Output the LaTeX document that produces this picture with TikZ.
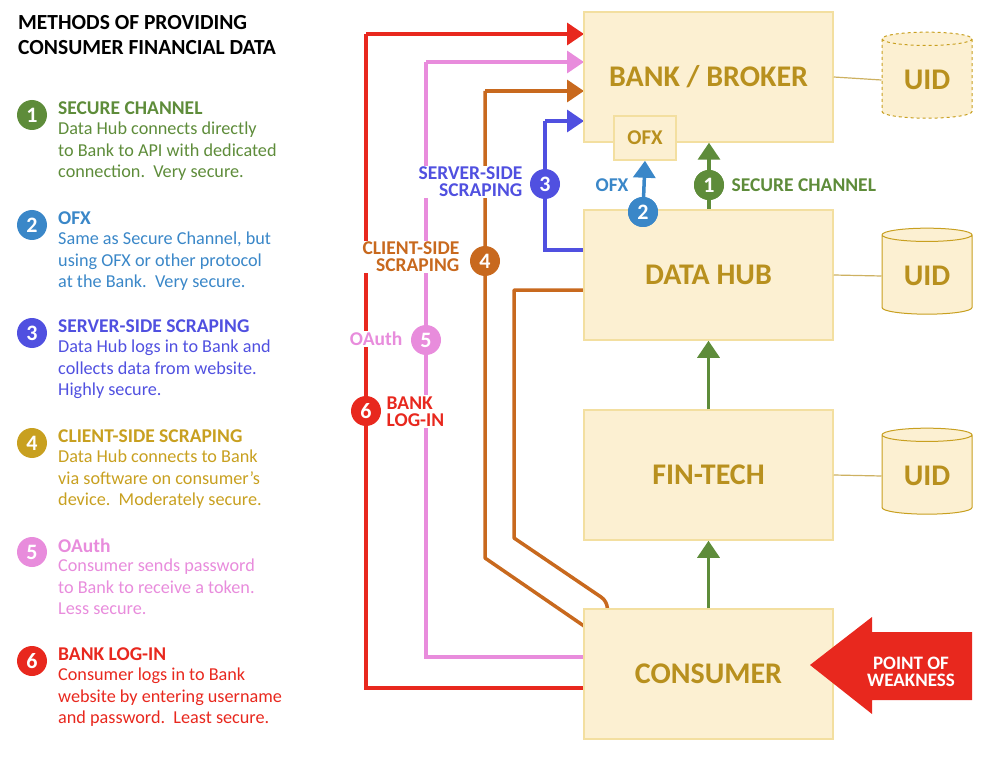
\documentclass[tikz,border=0pt]{standalone}
\usepackage{fontspec}
\setmainfont{Carlito}
\usetikzlibrary{shapes.geometric,arrows.meta}
\definecolor{cg}{HTML}{5E8C3A}\definecolor{cb}{HTML}{3A87C8}\definecolor{cp}{HTML}{5050E0}
\definecolor{cy}{HTML}{C8A020}\definecolor{ck}{HTML}{E88CDC}\definecolor{cr}{HTML}{E8281E}
\definecolor{co}{HTML}{C8691E}\definecolor{bf}{HTML}{FCF0D2}\definecolor{bd}{HTML}{F3DFA0}\definecolor{bt}{HTML}{B8901E}
\begin{document}
\begin{tikzpicture}[x=1pt,y=-1pt,
 box/.style={draw=bd,fill=bf,line width=1.5pt,minimum width=249pt,minimum height=130pt,font=\bfseries\fontsize{30}{32}\selectfont,text=bt},
 cyl/.style={cylinder,shape border rotate=90,aspect=0.25,draw=cy,fill=bf,line width=1pt,minimum width=90pt,minimum height=86pt,font=\bfseries\fontsize{30}{32}\selectfont,text=bt},
 num/.style={circle,fill=#1,text=white,inner sep=0pt,minimum size=30pt,font=\bfseries\fontsize{22}{22}\selectfont},
 ln/.style={line width=3.5pt,draw=#1},
 ar/.style={line width=3.5pt,draw=#1,-{Triangle[length=17pt,width=22pt]}},
 lbl/.style={font=\bfseries\fontsize{19.5}{20}\selectfont,text=#1,align=left,fill=white,inner sep=1.5pt},
 lt/.style={font=\bfseries\fontsize{19.5}{20}\selectfont,text=#1,anchor=north west},
 lb/.style={font=\fontsize{18.2}{21.5}\selectfont,text=#1,anchor=north west,align=left}]
\useasboundingbox (0,0) rectangle (997,757);
% connectors behind boxes
\coordinate (r1) at (366,688);\coordinate (r2) at (366,34);
\draw[ln=cr] (584,688) -- (r1) -- (r2);
\draw[ar=cr] (r2) -- (584,34);
\draw[ln=ck] (584,657) -- (426,657) -- (426,62);
\draw[ar=ck] (426,62) -- (584,62);
\draw[ln=co,line join=round] (584,290) -- (514,290) -- (514,538) -- (601,597) .. controls (617,608) and (600,638) .. (584,626) -- (485,558) -- (485,91);
\draw[ar=co] (485,91) -- (584,91);
\draw[ln=cp] (584,250) -- (545,250) -- (545,121);
\draw[ar=cp] (545,121) -- (584,121);
% boxes
\node[box] (bank) at (708.5,77) {BANK / BROKER};
\node[box] (hub) at (708.5,275) {DATA HUB};
\node[box] (fin) at (708.5,475) {FIN-TECH};
\node[box] (con) at (708.5,674) {CONSUMER};
\node[draw=bd,fill=bf,line width=1.5pt,minimum width=62pt,minimum height=44pt,font=\bfseries\fontsize{21}{21}\selectfont,text=bt] (ofx) at (645,138) {OFX};
\node[cyl,dashed] (u1) at (927,80) {UID};
\node[cyl] (u2) at (927,276) {UID};
\node[cyl] (u3) at (927,476) {UID};
\draw[line width=1.2pt,draw=bt!70] (bank.east) -- (u1.west) (hub.east) -- (u2.west) (fin.east) -- (u3.west);
% arrows
\node[num=cg] (n1) at (709,185) {1};
\node[num=cb] (n2) at (643,212) {2};
\draw[ar=cg] (fin.north) -- (hub.south);
\draw[ar=cg] (con.north) -- (fin.south);
\draw[ar=cg] (n1 |- hub.north) -- (n1 |- bank.south);
\draw[ar=cb] (n2.center) -- (ofx.south);
\node[num=cg] at (n1) {1};
\node[num=cb] at (n2) {2};
\node[num=cp] (n3) at (545,184) {3};
\node[num=co] (n4) at (485,261) {4};
\node[num=ck] (n5) at (426,340) {5};
\node[num=cr] (n6) at (366,411) {6};
\node[lbl=cg,anchor=west] at (730,185) {SECURE CHANNEL};
\node[lbl=cb,anchor=east] at (630,185) {OFX};
\node[lbl=cp,anchor=east,align=right] at (524,182) {SERVER-SIDE\\[-3pt]SCRAPING};
\node[lbl=co,anchor=east,align=right] at (461,257) {CLIENT-SIDE\\[-3pt]SCRAPING};
\node[lbl=ck,anchor=east] at (404,339) {OAuth};
\node[lbl=cr,anchor=north west] at (385,395) {BANK\\[-3pt]LOG-IN};
% point of weakness
\fill[cr] (810,665) -- (872,617) -- (872,632) -- (972,632) -- (972,700) -- (872,700) -- (872,714) -- cycle;
\node[font=\bfseries\fontsize{19}{20}\selectfont,text=white,align=center] at (911,672) {POINT OF\\[-3pt]WEAKNESS};
% legend
\node[anchor=north west,font=\bfseries\fontsize{21.5}{25}\selectfont,align=left,inner sep=0pt] at (18,15) {METHODS OF PROVIDING\\CONSUMER FINANCIAL DATA};
\foreach \y/\c/\n/\t/\b in {
 115/cg/1/SECURE CHANNEL/{Data Hub connects directly\\to Bank to API with dedicated\\connection.\ \ Very secure.},
 225/cb/2/OFX/{Same as Secure Channel, but\\using OFX or other protocol\\at the Bank.\ \ Very secure.},
 333/cp/3/SERVER-SIDE SCRAPING/{Data Hub logs in to Bank and\\collects data from website.\\Highly secure.},
 443/cy/4/CLIENT-SIDE SCRAPING/{Data Hub connects to Bank\\via software on consumer's\\device.\ \ Moderately secure.},
 552/ck/5/OAuth/{Consumer sends password\\to Bank to receive a token.\\Less secure.},
 661/cr/6/BANK LOG-IN/{Consumer logs in to Bank\\website by entering username\\and password.\ \ Least secure.}} {
 \node[num=\c] at (32,\y) {\n};
 \node[lt=\c,inner sep=0pt] at (58,\y-13) {\t};
 \node[lb=\c,inner sep=0pt] at (58,\y+7) {\b};
}
\end{tikzpicture}
\end{document}
